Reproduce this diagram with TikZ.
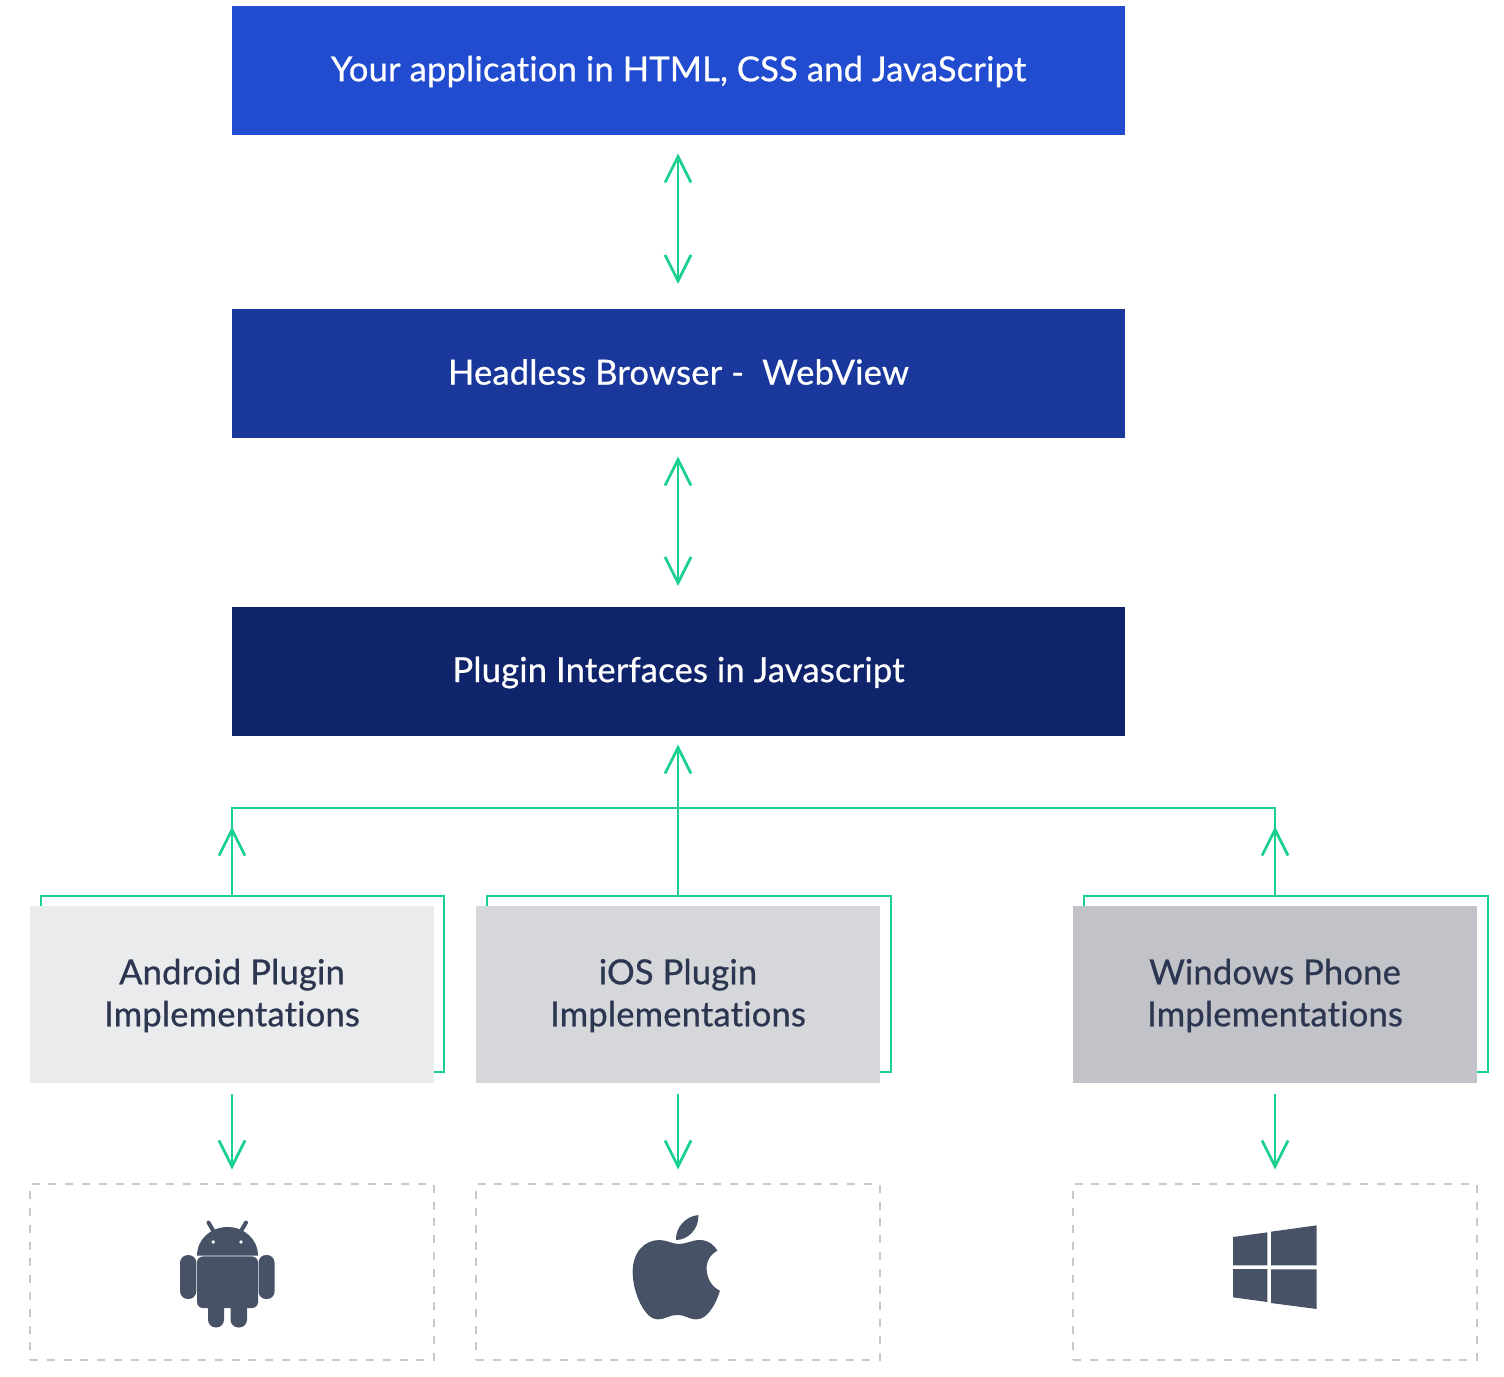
\documentclass[tikz,border=0pt]{standalone}
\usepackage{fontspec}
\setmainfont[RawFeature={embolden=0.7;-liga},LetterSpace=0.6]{Lato}
\usetikzlibrary{arrows.meta}
\definecolor{bA}{HTML}{224CCF}
\definecolor{bB}{HTML}{1A389C}
\definecolor{bC}{HTML}{0F246B}
\definecolor{gA}{HTML}{EAEBED}
\definecolor{gB}{HTML}{D5D7DB}
\definecolor{gC}{HTML}{C2C3C8}
\definecolor{dash}{HTML}{C8C9CC}
\definecolor{inkc}{HTML}{2D3650}
\definecolor{conn}{HTML}{1AD08F}
\definecolor{icon}{HTML}{475267}
\tikzset{
  x=1pt,y=-1pt,
  bigbox/.style={minimum width=893pt,minimum height=129pt,inner sep=0pt,fill=#1},
  implbox/.style={minimum width=404pt,minimum height=177pt,inner sep=0pt,fill=#1},
  biglabel/.style={inner sep=0pt,text=white,font=\fontsize{34.5}{42}\selectfont},
  impllabel/.style={inner sep=0pt,text=inkc,align=center,font=\fontsize{34.5}{42}\selectfont},
  osbox/.style={minimum width=404pt,minimum height=176pt,inner sep=0pt,draw=dash,line width=2pt,dash pattern=on 8pt off 8.8pt},
  conline/.style={draw=conn,line width=2.7pt},
  conarrow/.style={conline,-{Straight Barb[length=26pt,width=26pt,line width=2.7pt]}},
  conboth/.style={conline,{Straight Barb[length=26pt,width=26pt,line width=2.7pt]}-{Straight Barb[length=26pt,width=26pt,line width=2.7pt]}},
  bracket/.style={conline,line join=miter},
}
\begin{document}
\begin{tikzpicture}
\useasboundingbox (0,0) rectangle (1504,1376);
% brackets behind the boxes
\coordinate (brA) at (232,896);
\coordinate (brB) at (678,896);
\coordinate (brC) at (1275,896);
\draw[bracket] (41,906) -- (41,896) -- (444,896) -- (444,1072) -- (434,1072);
\draw[bracket] (487,906) -- (487,896) -- (891,896) -- (891,1072) -- (880,1072);
\draw[bracket] (1084,906) -- (1084,896) -- (1488,896) -- (1488,1072) -- (1477,1072);
% big boxes
\node[bigbox=bA] (app) at (678.5,70.5) {};
\node[bigbox=bB] (web) at (678.5,373.5) {};
\node[bigbox=bC] (plug) at (678.5,671.5) {};
\node[biglabel] (appT) at (678.5,71.5) {Your application in HTML, CSS and JavaScript};
\node[biglabel] (webT) at (678.5,372) {Headless Browser -\ \ WebView};
\node[biglabel] (plugT) at (678.5,672.5) {Plugin Interfaces in Javascript};
% implementation boxes
\node[implbox=gA] (andr) at (232,994.5) {};
\node[implbox=gB] (ios) at (678,994.5) {};
\node[implbox=gC] (win) at (1275,994.5) {};
\node[impllabel] (andrT) at (232,995.5) {Android Plugin\\Implementations};
\node[impllabel] (iosT) at (678,995.5) {iOS Plugin\\Implementations};
\node[impllabel] (winT) at (1275,995.5) {Windows Phone\\Implementations};
% OS boxes
\node[osbox] (osA) at (232,1272) {};
\node[osbox] (osB) at (678,1272) {};
\node[osbox] (osC) at (1275,1272) {};
% connectors
\coordinate (a1) at (678,153.5); \coordinate (a2) at (678,284);
\coordinate (b1) at (678,456.5); \coordinate (b2) at (678,586);
\coordinate (c1) at (678,744.5);
\coordinate (busL) at (232,808); \coordinate (busR) at (1275,808);
\coordinate (tipL) at (232,826.5); \coordinate (tipR) at (1275,826.5);
\draw[conboth] (a1) -- (a2);
\draw[conboth] (b1) -- (b2);
\draw[conline] (brA) -- (busL) -- (busR) -- (brC);
\draw[conarrow] (brA) -- (tipL);
\draw[conarrow] (brC) -- (tipR);
\draw[conarrow] (brB) -- (c1);
\coordinate (dA1) at (232,1094); \coordinate (dA2) at (232,1169.5);
\coordinate (dB1) at (678,1094); \coordinate (dB2) at (678,1169.5);
\coordinate (dC1) at (1275,1094); \coordinate (dC2) at (1275,1169.5);
\draw[conarrow] (dA1) -- (dA2);
\draw[conarrow] (dB1) -- (dB2);
\draw[conarrow] (dC1) -- (dC2);
% android
\fill[icon] (197,1255.7) .. controls (197,1239) and (211,1227) .. (227.5,1227)
  .. controls (244,1227) and (258,1239) .. (258,1255.7) -- cycle;
\fill[icon,rounded corners=6pt] (197,1256.4) -- (258,1256.4) -- (258,1308) -- (197,1308) -- cycle;
\fill[icon,rounded corners=7.9pt] (180,1255) rectangle (196.4,1299);
\fill[icon,rounded corners=7.4pt] (258.6,1255) rectangle (274.5,1299);
\fill[icon,rounded corners=7.9pt] (208,1295) rectangle (224,1327.5);
\fill[icon,rounded corners=7.9pt] (230.5,1295) rectangle (247,1327.5);
\draw[icon,line width=4pt,line cap=round] (208.5,1222.5) -- (214,1232);
\draw[icon,line width=4pt,line cap=round] (246,1222.5) -- (240.5,1232);
\fill[white] (213.3,1242) circle[radius=1.9];
\fill[white] (241,1242) circle[radius=1.9];
% apple
\begin{scope}[shift={(600,1190)},scale=1/3]
\fill[icon] (235,162) .. controls (260,162) and (280,148) .. (305,150)
  .. controls (325,152) and (342,164) .. (352,182)
  .. controls (330,194) and (318,215) .. (320,240)
  .. controls (322,270) and (338,292) .. (360,302)
  .. controls (350,335) and (325,388) .. (290,388)
  .. controls (265,388) and (258,375) .. (232,375)
  .. controls (205,375) and (198,388) .. (172,388)
  .. controls (135,388) and (98,310) .. (98,245)
  .. controls (98,185) and (135,150) .. (178,150)
  .. controls (200,150) and (218,162) .. (235,162) -- cycle;
\fill[icon] (228,150) .. controls (226,110) and (260,78) .. (295,75)
  .. controls (298,115) and (265,150) .. (228,150) -- cycle;
\end{scope}
% windows
\begin{scope}[shift={(1200,1200)},scale=1/3]
\fill[icon] (99,111) -- (202,97) -- (202,196) -- (99,196) -- cycle;
\fill[icon] (213,95) -- (350,76) -- (350,196) -- (213,196) -- cycle;
\fill[icon] (99,207) -- (202,207) -- (202,306) -- (99,292) -- cycle;
\fill[icon] (213,208) -- (350,208) -- (350,327) -- (213,309) -- cycle;
\end{scope}
\end{tikzpicture}
\end{document}
